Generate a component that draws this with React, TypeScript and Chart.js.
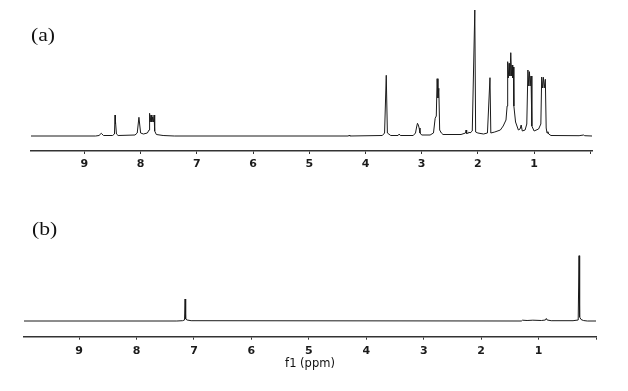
import React, { useEffect, useRef } from "react";
import { Chart, registerables } from "chart.js";

Chart.register(...registerables);

// ---- data (ppm, relative intensity) ----
const TICK_VALUES = [0, 1, 2, 3, 4, 5, 6, 7, 8, 9];
const TICK_LABELS = ["", "1", "2", "3", "4", "5", "6", "7", "8", "9"];
const AXIS_TITLE = "f1 (ppm)";
const PANEL_LABELS = ["(a)", "(b)"];

const PPM_A = [
  9.95, 8.8, 8.74, 8.7, 8.66, 8.5, 8.465, 8.455, 8.45, 8.445, 8.43, 8.4,
  8.1, 8.06, 8.03, 8.0, 7.95, 7.88, 7.85, 7.84, 7.83, 7.815, 7.8, 7.785, 7.77, 7.76, 7.75, 7.72, 7.6, 7.4,
  4.3, 4.29, 4.28, 3.7, 3.66, 3.63, 3.61, 3.55, 3.42, 3.4, 3.38,
  3.15, 3.11, 3.09, 3.075, 3.06, 3.045, 3.03, 3.0, 2.85, 2.79, 2.76, 2.74, 2.725, 2.71, 2.695, 2.68, 2.65, 2.62,
  2.3, 2.22, 2.21, 2.2, 2.17, 2.16, 2.14, 2.1, 2.055, 2.04, 2.0, 1.9, 1.83, 1.785, 1.77,
  1.7, 1.6, 1.55, 1.5, 1.48, 1.47, 1.46, 1.445, 1.43, 1.415, 1.4, 1.39, 1.38, 1.37, 1.36, 1.33,
  1.28, 1.25, 1.23, 1.21, 1.16, 1.13, 1.11, 1.095, 1.083, 1.07, 1.055, 1.04, 1.0,
  0.92, 0.88, 0.865, 0.85, 0.835, 0.82, 0.8, 0.785, 0.77, 0.755, 0.74, 0.7,
  0.2, 0.12, 0.1, -0.03,
];
const INT_A = [
  0, 0, 0.5, 2.7, 0.5, 0.5, 2, 21, 12, 15, 2, 0.5,
  1, 3, 18.7, 3, 2, 3, 6, 22.7, 14, 21, 14, 19, 14, 21, 5, 1.5, 0.5, 0,
  0, 1, 0, 0.5, 3, 60.7, 3, 0.5, 0.5, 2, 0.5,
  0.5, 3, 9, 12.7, 11, 8, 3, 1, 1, 3, 17.7, 20, 57.3, 38, 47.7, 6, 3, 1.5,
  1.5, 3, 6, 2.5, 3, 4, 3, 5, 126, 4, 3, 2, 3, 58.3, 3,
  4, 6, 10, 16, 30, 74.3, 58, 72.7, 60, 83.3, 60, 71, 58, 69, 30, 14,
  6, 7, 11, 5, 6, 12, 66, 50, 64.3, 50, 60, 10, 5,
  7, 12, 59, 48, 58.7, 48, 56.7, 8, 3, 4.3, 2, 0.5,
  0.3, 1, 0.3, 0,
];

const PPM_B = [
  9.96, 7.3, 7.2, 7.165, 7.155, 7.145, 7.12, 7.05,
  1.3, 1.28, 1.2, 1.1, 0.95, 0.88, 0.865, 0.85, 0.78,
  0.4, 0.31, 0.295, 0.285, 0.26, 0.22, 0.15, 0,
];
const INT_B = [
  0, 0, 0.3, 1, 22, 2, 1, 0.3,
  0, 0.8, 0.5, 0.8, 0.5, 1, 2.5, 1, 0.3,
  0.3, 1, 65.3, 4, 1.5, 0.5, 0, 0,
];

type PanelCfg = {
  ppm: number[];
  intensity: number[];
  xMin: number;
  xMax: number;
  yMin: number;
  yMax: number;
  padLeft: number;
  padRight: number;
  padBottom: number;
  axisHeight: number;
  tickPadding: number;
  showTitle: boolean;
};

function buildChart(canvas: HTMLCanvasElement, cfg: PanelCfg) {
  const points = cfg.ppm.map((x, i) => ({ x, y: cfg.intensity[i] }));
  return new Chart(canvas, {
    type: "line",
    data: {
      datasets: [
        {
          data: points,
          borderColor: "#1a1a1a",
          borderWidth: 1,
          pointRadius: 0,
          tension: 0,
          fill: false,
        },
      ],
    },
    options: {
      animation: false,
      responsive: false,
      events: [],
      layout: {
        padding: { top: 5, left: cfg.padLeft, right: cfg.padRight, bottom: cfg.padBottom },
      },
      plugins: { legend: { display: false }, tooltip: { enabled: false }, title: { display: false } },
      scales: {
        x: {
          type: "linear",
          reverse: true,
          min: cfg.xMin,
          max: cfg.xMax,
          afterBuildTicks: (scale: any) => {
            scale.ticks = TICK_VALUES.map((v) => ({ value: v }));
          },
          afterFit: (scale: any) => {
            scale.height = cfg.axisHeight;
          },
          border: { display: true, color: "#333", width: 1.5 },
          grid: {
            display: true,
            drawOnChartArea: false,
            drawTicks: true,
            tickLength: 3,
            color: "#333",
            lineWidth: 1,
          },
          ticks: {
            autoSkip: false,
            maxRotation: 0,
            padding: cfg.tickPadding,
            color: "#1a1a1a",
            font: { family: "DejaVu Sans", size: 11, weight: "bold" },
            callback: (v: any) => {
              const idx = TICK_VALUES.indexOf(Number(v));
              return idx >= 0 ? TICK_LABELS[idx] : "";
            },
          },
          title: {
            display: cfg.showTitle,
            text: AXIS_TITLE,
            color: "#111",
            padding: { top: 0, bottom: 0 },
            font: { family: "DejaVu Sans", size: 11.5 },
          },
        },
        y: {
          display: false,
          min: cfg.yMin,
          max: cfg.yMax,
        },
      },
    },
  });
}

export default function App() {
  const refA = useRef<HTMLCanvasElement>(null);
  const refB = useRef<HTMLCanvasElement>(null);

  useEffect(() => {
    const a = buildChart(refA.current!, {
      ppm: PPM_A,
      intensity: INT_A,
      xMin: -0.03,
      xMax: 9.95,
      yMin: -15,
      yMax: 131,
      padLeft: 31,
      padRight: 36,
      padBottom: 29,
      axisHeight: 20,
      tickPadding: 4,
      showTitle: false,
    });
    const b = buildChart(refB.current!, {
      ppm: PPM_B,
      intensity: INT_B,
      xMin: 0,
      xMax: 9.96,
      yMin: -15.7,
      yMax: 116,
      padLeft: 24,
      padRight: 32,
      padBottom: 20,
      axisHeight: 34.3,
      tickPadding: 5,
      showTitle: true,
    });
    return () => {
      a.destroy();
      b.destroy();
    };
  }, []);

  const labelStyle: React.CSSProperties = {
    position: "absolute",
    fontFamily: "'Liberation Serif', serif",
    fontSize: 18,
    lineHeight: "18px",
    color: "#111",
    transform: "scaleX(1.2)",
    transformOrigin: "left center",
    whiteSpace: "nowrap",
  };

  return (
    <div
      style={{
        position: "absolute",
        left: 0,
        top: 0,
        width: 628,
        height: 391,
        background: "#fff",
        overflow: "hidden",
      }}
    >
      <canvas ref={refA} width={628} height={200} style={{ position: "absolute", left: 0, top: 0, display: "block" }} />
      <canvas ref={refB} width={628} height={191} style={{ position: "absolute", left: 0, top: 200, display: "block" }} />
      <div style={{ ...labelStyle, left: 31, top: 26 }}>{PANEL_LABELS[0]}</div>
      <div style={{ ...labelStyle, left: 32, top: 220 }}>{PANEL_LABELS[1]}</div>
    </div>
  );
}
